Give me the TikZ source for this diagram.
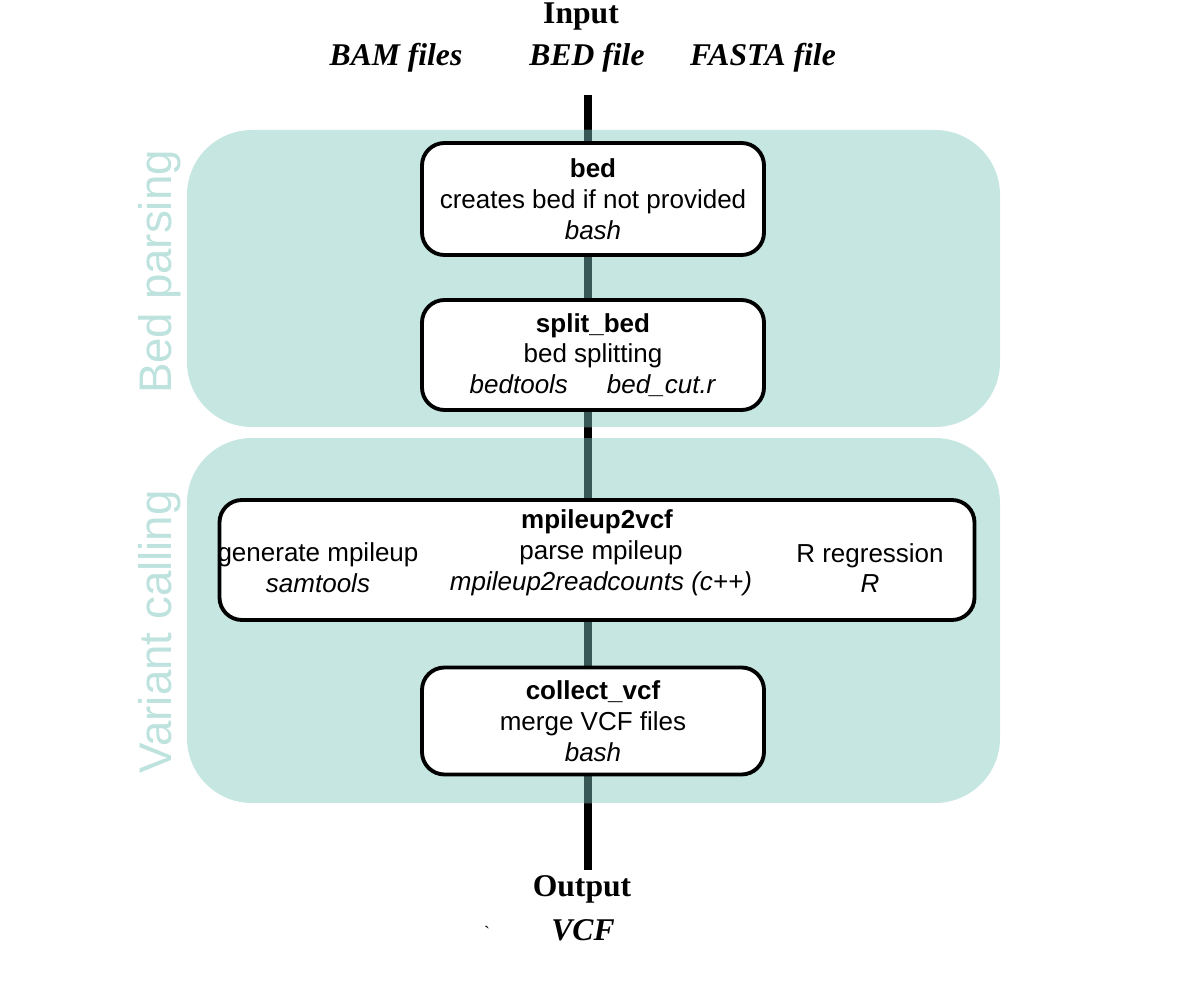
\documentclass[tikz,border=0pt]{standalone}
\usepackage{fontspec}
\setmainfont{Liberation Sans}
\newfontfamily\serif{Liberation Serif}
\begin{document}
\begin{tikzpicture}[x=0.02cm,y=-0.02cm,
 panel/.style={fill=teal0,rounded corners=1.3cm,draw=none},
 procbox/.style={draw=black,line width=2.2pt,fill=white,rounded corners=0.45cm,align=center,font=\fontsize{14.8}{17.5}\selectfont,inner sep=0pt},
 side/.style={text=teal1,rotate=90,font=\fontsize{26}{30}\selectfont},
 io/.style={font=\serif\fontsize{18}{21}\selectfont\bfseries}]
\definecolor{teal0}{RGB}{198,230,226}
\definecolor{teal1}{RGB}{190,226,221}
\definecolor{teal2}{RGB}{55,88,86}
\useasboundingbox (0,0) rectangle (1200,983);
\coordinate (top) at (588,95);
\coordinate (bot) at (588,870);
\draw[line width=4.5pt] (top) -- (bot);
\fill[panel] (187,130) rectangle (1000,427);
\fill[panel] (187,438) rectangle (1000,803);
\draw[line width=4.5pt,teal2] (588,130) -- (588,427);
\draw[line width=4.5pt,teal2] (588,438) -- (588,803);
\node[side] (bp) at (160,272) {Bed parsing};
\node[side] (vc) at (160,632) {Variant calling};
\node[procbox,minimum width=342*0.02cm,minimum height=112*0.02cm] (bed) at (593,199) {\textbf{bed}\\creates bed if not provided\\\textit{bash}};
\node[procbox,minimum width=342*0.02cm,minimum height=110*0.02cm] (split) at (593,355) {\textbf{split\_bed}\\bed splitting\\\textit{bedtools}\hspace{1.5em}\textit{bed\_cut.r}};
\node[procbox,minimum width=755*0.02cm,minimum height=120*0.02cm] (mp) at (597,560) {};
\node[font=\fontsize{14.8}{17.5}\selectfont\bfseries] (mpt) at (597,522) {mpileup2vcf};
\node[align=center,font=\fontsize{14.8}{17.5}\selectfont] (g1) at (318,568) {generate mpileup\\\textit{samtools}};
\node[align=center,font=\fontsize{14.8}{17.5}\selectfont] (g2) at (601,568) {parse mpileup\\\textit{mpileup2readcounts (c++)}};
\node[align=center,font=\fontsize{14.8}{17.5}\selectfont] (g3) at (870,568) {R regression\\\textit{R}};
\node[procbox,minimum width=342*0.02cm,minimum height=107*0.02cm] (col) at (593,721) {\textbf{collect\_vcf}\\merge VCF files\\\textit{bash}};
\node[io] (in) at (581,17) {Input};
\node[io] (bam) at (396,58) {\itshape BAM files};
\node[io] (bedf) at (587,58) {\itshape BED file};
\node[io] (fa) at (763,58) {\itshape FASTA file};
\node[io] (out) at (582,889) {Output};
\node[io] (vcf) at (583,930) {\itshape VCF};
\node[font=\serif\fontsize{10}{12}\selectfont] (tick) at (487,932) {`};
\end{tikzpicture}
\end{document}
